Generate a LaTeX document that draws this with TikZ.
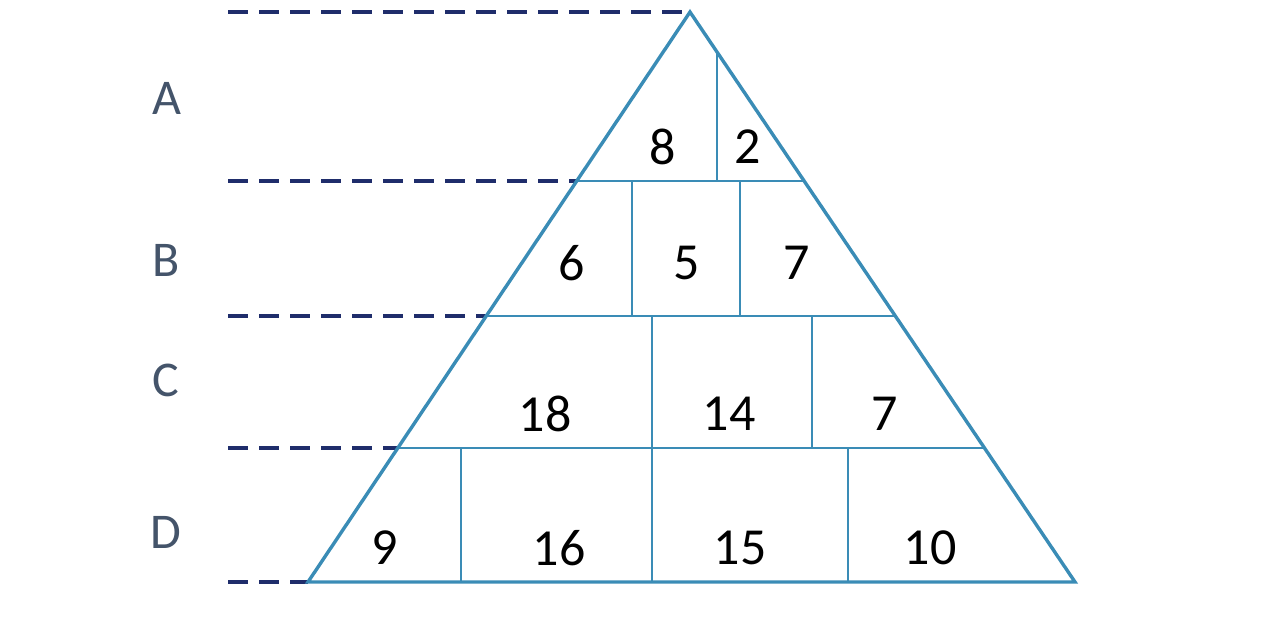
\documentclass[tikz,border=0pt]{standalone}
\usepackage{fontspec}
\setmainfont{Carlito}
\definecolor{tri}{HTML}{3A8CB6}
\definecolor{dash}{HTML}{1F2D6B}
\definecolor{lab}{HTML}{44546A}
\begin{document}
\begin{tikzpicture}[x=1pt,y=-1pt,
  outline/.style={draw=tri,line width=3.4pt,line join=miter},
  divider/.style={draw=tri,line width=2.3pt},
  guide/.style={draw=dash,line width=3.6pt,dash pattern=on 20pt off 11pt},
  num/.style={font=\fontsize{52}{52}\selectfont,text=black,inner sep=0pt},
  lvl/.style={font=\fontsize{50}{50}\selectfont,text=lab,inner sep=0pt}]
\useasboundingbox (0,0) rectangle (1280,618);
% guides
\coordinate (g0) at (228,12);
\coordinate (g1) at (228,181);
\coordinate (g2) at (228,316);
\coordinate (g3) at (228,448);
\coordinate (g4) at (228,582);
\coordinate (apex) at (690,12);
\coordinate (bl) at (308,582);
\coordinate (br) at (1075,582);
\coordinate (l1) at (576,181);
\coordinate (r1) at (805,181);
\coordinate (l2) at (486,316);
\coordinate (r2) at (896,316);
\coordinate (l3) at (398,448);
\coordinate (r3) at (985,448);
\draw[guide] (g0) -- (apex);
\draw[guide] (g1) -- (l1);
\draw[guide] (g2) -- (l2);
\draw[guide] (g3) -- (l3);
\draw[guide] (g4) -- (bl);
% horizontal row lines
\draw[divider] (l1) -- (r1);
\draw[divider] (l2) -- (r2);
\draw[divider] (l3) -- (r3);
% vertical dividers
\draw[divider] (717,52) -- (717,181);
\draw[divider] (632,181) -- (632,316);
\draw[divider] (740,181) -- (740,316);
\draw[divider] (652,316) -- (652,448);
\draw[divider] (812,316) -- (812,448);
\draw[divider] (461,448) -- (461,582);
\draw[divider] (652,448) -- (652,582);
\draw[divider] (848,448) -- (848,582);
% triangle
\draw[outline] (apex) -- (br) -- (bl) -- cycle;
% labels
\node[lvl] (A) at (167,98) {A};
\node[lvl] (B) at (166,260) {B};
\node[lvl] (C) at (166,380) {C};
\node[lvl] (D) at (166,532) {D};
% numbers
\node[num] (n8) at (663,147) {8};
\node[num] (n2) at (748,147) {2};
\node[num] (n6) at (572,263) {6};
\node[num] (n5) at (687,263) {5};
\node[num] (n7a) at (797,263) {7};
\node[num] (n18) at (545,414) {18};
\node[num] (n14) at (729,414) {14};
\node[num] (n7b) at (885,414) {7};
\node[num] (n9) at (385,548) {9};
\node[num] (n16) at (559,548) {16};
\node[num] (n15) at (740,548) {15};
\node[num] (n10) at (930,548) {10};
\end{tikzpicture}
\end{document}
